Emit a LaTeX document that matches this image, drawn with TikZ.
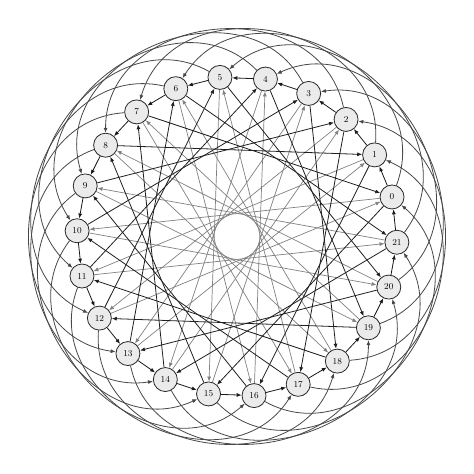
\documentclass[tikz,border=0pt]{standalone}
\usetikzlibrary{arrows.meta}
\pgfdeclarelayer{background}
\pgfsetlayers{background,main}
\begin{document}
\begin{tikzpicture}[x=1pt,y=1pt,
  vtx/.style={circle,draw=black!85,line width=0.8pt,fill=black!8,minimum size=24pt,inner sep=0pt,font=\small},
  cyc/.style={draw=black!90,line width=0.8pt,-{Latex[length=5pt,width=4pt]}},
  chordk/.style={draw=black!88,line width=0.8pt,-{Latex[length=5pt,width=4pt]}},
  chordg/.style={draw=black!50,line width=0.7pt,-{Latex[length=5pt,width=4pt]}},
  outerarc/.style={draw=black!72,line width=0.8pt,-{Latex[length=5pt,width=4pt]}}]
\useasboundingbox (-237,-237.5) rectangle (237,236.5);
\foreach \i in {0,...,21} {
  \pgfmathsetmacro\ang{14.3+360/22*\i}
  \node[vtx] (n\i) at (\ang:160) {\i};
}
\begin{pgfonlayer}{background}
\foreach \i in {0,...,21} {
  \pgfmathtruncatemacro\g{mod(\i+10,22)}
  \draw[chordg] (n\i) -- (n\g);
}
\foreach \i in {0,...,21} {
  \pgfmathtruncatemacro\k{mod(\i+15,22)}
  \draw[chordk] (n\i) -- (n\k);
}
\foreach \i in {0,...,21} {
  \pgfmathtruncatemacro\tgt{mod(\i+6,22)}
  \pgfmathsetmacro\ai{14.3+360/22*\i+55}
  \pgfmathsetmacro\ao{14.3+360/22*(\i+6)-55}
  \draw[outerarc] (n\i) to[out=\ai,in=\ao,looseness=1.3] (n\tgt);
}
\foreach \i in {0,...,21} {
  \pgfmathtruncatemacro\j{mod(\i+1,22)}
  \draw[cyc] (n\i) -- (n\j);
}
\end{pgfonlayer}
\end{tikzpicture}
\end{document}
